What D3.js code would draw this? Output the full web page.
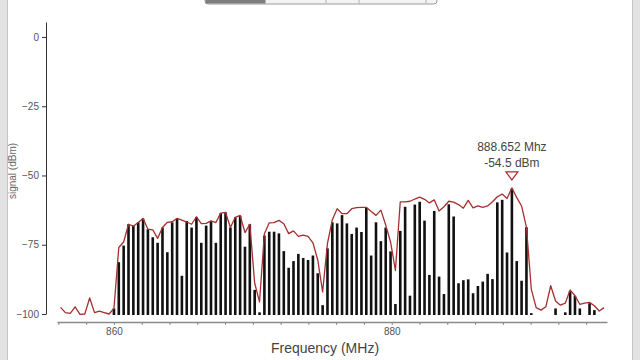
<!DOCTYPE html>
<html><head><meta charset="utf-8">
<script src="https://cdn.jsdelivr.net/npm/d3@7"></script>
<style>html,body{margin:0;padding:0;background:#fff;}svg{display:block;}</style>
</head><body>
<svg id="c" width="640" height="360"></svg>
<script>
// ---- data ----
const freqs = [856.156,856.506,856.855,857.205,857.554,857.904,858.253,858.602,858.952,859.301,859.651,
860.000,860.349,860.699,861.048,861.398,861.747,862.096,862.446,862.795,863.145,863.494,863.844,864.193,864.542,864.892,
865.241,865.591,865.940,866.289,866.639,866.988,867.338,867.687,868.036,868.386,868.735,869.085,869.434,869.783,
870.133,870.482,870.832,871.181,871.531,871.880,872.229,872.579,872.928,873.278,873.627,873.976,874.326,874.675,
875.025,875.374,875.723,876.073,876.422,876.772,877.121,877.471,877.820,878.169,878.519,878.868,879.218,879.567,
879.916,880.266,880.615,880.965,881.314,881.663,882.013,882.362,882.712,883.061,883.410,883.760,884.109,884.459,
884.808,885.158,885.507,885.856,886.206,886.555,886.905,887.254,887.603,887.953,888.302,888.652,889.001,889.350,
889.700,890.049,890.399,890.748,891.097,891.447,891.796,892.146,892.495,892.844,893.194,893.543,893.893,894.242,
894.592,894.941,895.290];
const currentDbm = [-100.5,-100.5,-100.5,-100.5,-100.5,-100.5,-100.5,-100.5,-100.5,-100.5,-100.5,
-98,-81.3,-75.3,-67.6,-68.1,-66.9,-65.5,-69.4,-72.3,-74.3,-68.8,-77.7,-66.9,-65.5,-86.2,
-66.4,-68.8,-65.0,-74.3,-68.1,-66.4,-74.3,-63.6,-63.3,-68.8,-65.1,-64.5,-75.7,-67.6,
-91.3,-99.4,-71.7,-70.3,-70.3,-70.9,-77.3,-83.3,-80.9,-78.3,-79.8,-80.5,-78.9,-85.3,
-96.8,-76.3,-66.9,-67.3,-64.3,-67.3,-71.1,-68.8,-70.4,-61.7,-78.9,-66.9,-73.7,-68.8,
-77.4,-96.4,-70.0,-61.3,-93.4,-60.5,-59.5,-66.3,-85.9,-62.8,-86.5,-92.8,-60.4,-64.8,
-88.9,-87.8,-87.5,-92.5,-89.9,-88.3,-85.5,-87.4,-59.7,-58.8,-77.8,-54.7,-80.9,-88.0,
-68.7,-99.7,-100.5,-100.5,-100.5,-100.5,-98.0,-100.5,-99.4,-91.7,-93.4,-98.0,-100.5,-96.1,
-98.6,-100.5,-100.5];
const peakHoldDbm = [-97.6,-99.5,-99.8,-97.4,-100.1,-100,-94.2,-99.5,-99,-99.5,-100,
-98,-76,-74,-67.6,-68.3,-67,-65.5,-69.4,-69.6,-72.7,-68.8,-66.9,-66.7,-65.5,-66.1,
-66.8,-67.6,-64.9,-67.4,-67.3,-66.4,-67,-63.6,-63.3,-68.8,-65.1,-64.4,-70.6,-67.6,
-88.9,-95.6,-71,-67.1,-67,-66.2,-67.4,-71,-70,-72,-71.5,-72,-74.3,-80.5,
-92,-74.5,-66,-62,-63.8,-63.8,-62,-61.6,-61.5,-61.5,-63,-64.4,-62.5,-67.9,
-74,-84.3,-59.5,-59.5,-59.3,-58.5,-57.8,-58.6,-59.9,-58.8,-62.8,-61.3,-59.3,-59.6,
-60.5,-61.8,-59,-61.7,-61,-61.5,-61,-59.5,-57.7,-56.7,-58.3,-54.5,-58,-61,
-68.7,-91,-97.7,-98.6,-97.4,-89.8,-95.3,-96.8,-96.1,-91.3,-93.4,-96.5,-96.1,-95.8,
-97,-98.9,-97.7];
const yTickValues = [0, -25, -50, -75, -100];
const xTickValues = [856,858,860,862,864,866,868,870,872,874,876,878,880,882,884,886,888,890,892,894];
const xLabelValues = [860, 880];
const markerFreq = [888.652];
const markerDbm = [-54.5];
const markerLines = ["888.652 Mhz", "-54.5 dBm"];

// ---- drawing ----
const svg = d3.select("#c");
const font = "'Liberation Sans', Arial, Helvetica, sans-serif";

// window chrome
svg.append("rect").attr("x",0).attr("y",0).attr("width",7).attr("height",360).attr("fill","#e2e2e2");
svg.append("line").attr("x1",7.5).attr("x2",7.5).attr("y1",0).attr("y2",360).attr("stroke","#c4c4c4");
svg.append("rect").attr("x",633).attr("y",0).attr("width",7).attr("height",360).attr("fill","#e2e2e2");
svg.append("line").attr("x1",632.5).attr("x2",632.5).attr("y1",0).attr("y2",360).attr("stroke","#c4c4c4");
// segmented control (cropped at top)
svg.append("rect").attr("x",205).attr("y",-6).attr("width",232).attr("height",10).attr("rx",3)
  .attr("fill","#f3f3f3").attr("stroke","#9a9a9a");
svg.append("rect").attr("x",205.5).attr("y",-6).attr("width",60).attr("height",9.5).attr("fill","#7d7d7d");
[326, 359, 426].forEach(px => svg.append("line").attr("x1",px).attr("x2",px).attr("y1",0).attr("y2",3.5).attr("stroke","#b0b0b0"));

const x = d3.scaleLinear().domain([855.9, 895.5]).range([57, 607]);
const y = d3.scaleLinear().domain([-100, 5.4]).range([314, 22]);

// bars
const data = freqs.map((f,i)=>({f, cur: currentDbm[i], peak: peakHoldDbm[i]}));
svg.append("g").selectAll("rect").data(data.filter(d=>d.cur > -100)).join("rect")
  .attr("x", d => x(d.f) - 1.3)
  .attr("width", 2.6)
  .attr("y", d => y(d.cur))
  .attr("height", d => y(-100) + 1 - y(d.cur))
  .attr("fill", "#111");

// peak-hold line
svg.append("path").datum(data)
  .attr("fill","none").attr("stroke","#a3302f").attr("stroke-width",1.3)
  .attr("stroke-linejoin","round")
  .attr("d", d3.line().x(d=>x(d.f)).y(d=>y(d.peak)));

// y axis
const gy = svg.append("g").attr("transform","translate(46,0)")
  .call(d3.axisLeft(y).tickValues(yTickValues).tickSize(4).tickSizeOuter(0).tickPadding(3));
gy.select(".domain").attr("stroke","#333");
gy.selectAll(".tick line").attr("stroke","#333");
gy.selectAll("text").attr("font-family",font).attr("font-size",10).attr("fill","#555");

// x axis
const gx = svg.append("g").attr("transform","translate(0,322)")
  .call(d3.axisBottom(x).tickValues(xTickValues).tickSize(3).tickSizeOuter(0).tickPadding(3)
    .tickFormat(d => xLabelValues.includes(d) ? d3.format("d")(d) : ""));
gx.select(".domain").attr("stroke","#8a8a8a").attr("stroke-width",1.4);
gx.selectAll(".tick line").attr("stroke","#8a8a8a");
gx.selectAll("text").attr("font-family",font).attr("font-size",10).attr("fill","#555");

// axis titles
svg.append("text").attr("x",325).attr("y",353).attr("text-anchor","middle")
  .attr("font-family",font).attr("font-size",14).attr("fill","#444").text("Frequency (MHz)");
svg.append("text").attr("transform","translate(16,171) rotate(-90)").attr("text-anchor","middle")
  .attr("font-family",font).attr("font-size",10).attr("fill","#666").text("signal (dBm)");

// marker
const mx = x(markerFreq[0]), my = y(markerDbm[0]);
svg.append("path")
  .attr("d", `M${mx-6},${my-16}L${mx+6},${my-16}L${mx},${my-8}Z`)
  .attr("fill","#fff").attr("stroke","#a3302f").attr("stroke-width",1.2);
svg.append("text").attr("x",mx).attr("y",my-37).attr("text-anchor","middle")
  .attr("font-family",font).attr("font-size",12).attr("fill","#444").text(markerLines[0]);
svg.append("text").attr("x",mx).attr("y",my-21).attr("text-anchor","middle")
  .attr("font-family",font).attr("font-size",12).attr("fill","#444").text(markerLines[1]);
</script>
</body></html>
